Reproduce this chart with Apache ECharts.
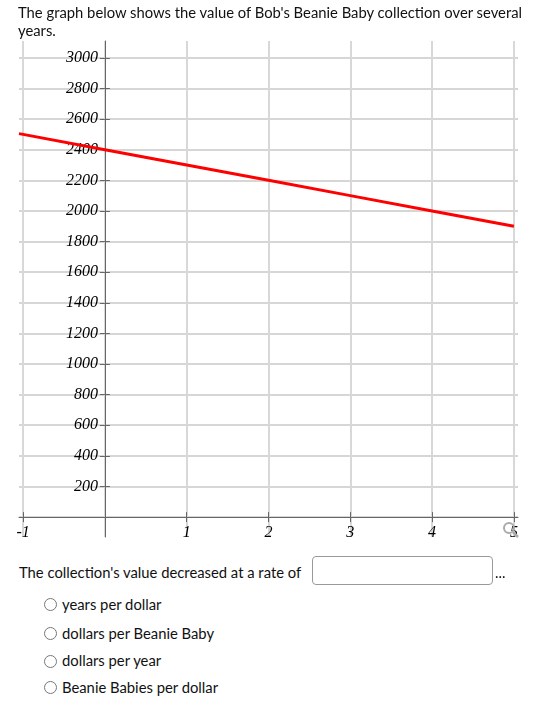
<!DOCTYPE html>
<html>
<head>
<meta charset="utf-8">
<script src="https://cdn.jsdelivr.net/npm/echarts@6/dist/echarts.min.js"></script>
<style>
  html, body { margin:0; padding:0; background:#fff; }
  body { width:555px; height:701px; position:relative; overflow:hidden; font-family: Lato, sans-serif; font-size:14.8px; color:#111; }
  .t { position:absolute; white-space:nowrap; line-height:20px; }
  .radio { position:absolute; width:11px; height:11px; border:1px solid #777; border-radius:50%; background:#fff; }
</style>
</head>
<body>
<div id="chart" style="position:absolute;left:0;top:0;width:555px;height:560px;"></div>
<div class="t" style="left:18px;top:4px;line-height:17.5px;">The graph below shows the value of Bob's Beanie Baby collection over several<br>years.</div>
<div class="t" style="left:19px;top:562px;">The collection's value decreased at a rate of</div>
<div style="position:absolute;left:312px;top:556px;width:179px;height:27px;border:1px solid #999;border-radius:4px;background:#fff;"></div>
<div class="t" style="left:495px;top:562px;">...</div>
<div class="radio" style="left:44px;top:598px;"></div>
<div class="t" style="left:62px;top:594px;">years per dollar</div>
<div class="radio" style="left:44px;top:627px;"></div>
<div class="t" style="left:62px;top:623px;">dollars per Beanie Baby</div>
<div class="radio" style="left:44px;top:655px;"></div>
<div class="t" style="left:62px;top:650px;">dollars per year</div>
<div class="radio" style="left:44px;top:681px;"></div>
<div class="t" style="left:62px;top:677px;">Beanie Babies per dollar</div>
<script>
// ---- data ----
const years  = [-1.05, -1, 0, 1, 2, 3, 4, 5];
const values = [2505, 2500, 2400, 2300, 2200, 2100, 2000, 1900];
const xTicks = [-1, 0, 1, 2, 3, 4, 5];
const yTicks = [0, 200, 400, 600, 800, 1000, 1200, 1400, 1600, 1800, 2000, 2200, 2400, 2600, 2800, 3000];
const xRange = [-1.05, 5.05];
const yRange = [-130, 3110];

const labelFont = { fontFamily: 'Liberation Serif', fontStyle: 'italic', fontSize: 16, color: '#000' };
const axisColor = '#666';
const fmt = v => (v === 0 ? '' : String(v));

const chart = echarts.init(document.getElementById('chart'), null, { renderer: 'canvas' });
chart.setOption({
  animation: false,
  grid: { left: 19, right: 37, top: 41, bottom: 23, outerBoundsMode: 'none', containLabel: false },
  xAxis: [
    {
      type: 'value', min: xRange[0], max: xRange[1], position: 'bottom',
      axisLine: { show: true, onZero: true, onZeroAxisIndex: 0, lineStyle: { color: axisColor, width: 1 } },
      axisTick: { show: true, length: 5, customValues: xTicks, lineStyle: { color: axisColor } },
      axisLabel: Object.assign({ customValues: xTicks, formatter: fmt, margin: -12 }, labelFont),
      splitLine: { show: true, lineStyle: { color: '#d8d8d8', width: 2 } }
    },
    {
      type: 'value', min: xRange[0], max: xRange[1], position: 'top',
      axisLine: { show: false, onZero: true, onZeroAxisIndex: 0 },
      axisTick: { show: true, length: 5, customValues: xTicks, lineStyle: { color: axisColor } },
      axisLabel: { show: false },
      splitLine: { show: false }
    }
  ],
  yAxis: [
    {
      type: 'value', min: yRange[0], max: yRange[1], position: 'left',
      axisLine: { show: true, onZero: true, onZeroAxisIndex: 0, lineStyle: { color: axisColor, width: 1 } },
      axisTick: { show: true, length: 5, customValues: yTicks, lineStyle: { color: axisColor } },
      axisLabel: Object.assign({ customValues: yTicks, formatter: fmt, margin: -79 }, labelFont),
      splitLine: { show: true, lineStyle: { color: '#c8c8c8', width: 1.5 } }
    },
    {
      type: 'value', min: yRange[0], max: yRange[1], position: 'right',
      axisLine: { show: false, onZero: true, onZeroAxisIndex: 0 },
      axisTick: { show: true, length: 5, customValues: yTicks, lineStyle: { color: axisColor } },
      axisLabel: { show: false },
      splitLine: { show: false }
    }
  ],
  series: [{
    type: 'line',
    xAxisIndex: 0, yAxisIndex: 0,
    data: years.map((x, i) => [x, values[i]]),
    symbol: 'none',
    clip: true,
    lineStyle: { color: '#ff0000', width: 3 }
  }],
  graphic: [
    { type: 'circle', shape: { cx: 509, cy: 528, r: 5 }, style: { fill: 'none', stroke: '#aaa', lineWidth: 2 }, z: 100 },
    { type: 'line', shape: { x1: 513, y1: 532, x2: 518, y2: 537 }, style: { stroke: '#aaa', lineWidth: 2.5 }, z: 100 }
  ]
});
</script>
</body>
</html>
